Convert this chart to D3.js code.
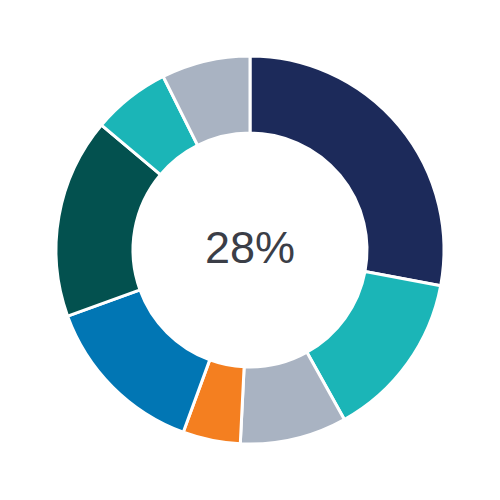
<!DOCTYPE html>
<html>
<head>
<meta charset="utf-8">
<script src="https://cdn.jsdelivr.net/npm/d3@7"></script>
<style>
html, body { margin: 0; padding: 0; background: #ffffff; }
svg { display: block; }
</style>
</head>
<body>
<svg id="chart" width="500" height="500"></svg>
<script>
const categories = ["A", "B", "C", "D", "E", "F", "G", "H"];
const values = [28, 14, 8.9, 4.8, 13.9, 16.7, 6.5, 7.4];
const colors = ["#1c2a5a", "#1bb5b7", "#a9b3c2", "#f47f20", "#0176b4", "#03514f", "#1bb5b7", "#a9b3c2"];
const centerLabel = "28%";

const svg = d3.select("#chart");
const cx = 250, cy = 250, outerR = 194, innerR = 117;

const pie = d3.pie().sort(null).value(d => d.v);
const arc = d3.arc().innerRadius(innerR).outerRadius(outerR);

const data = categories.map((c, i) => ({ c, v: values[i], col: colors[i] }));

const g = svg.append("g").attr("transform", `translate(${cx},${cy})`);
g.selectAll("path")
  .data(pie(data))
  .join("path")
  .attr("d", arc)
  .attr("fill", d => d.data.col)
  .attr("stroke", "#ffffff")
  .attr("stroke-width", 3);

g.append("text")
  .attr("x", 0)
  .attr("y", 13)
  .attr("text-anchor", "middle")
  .attr("font-family", "Liberation Sans, Arial, sans-serif")
  .attr("font-size", 45)
  .attr("fill", "#3b3e47")
  .text(centerLabel);
</script>
</body>
</html>
